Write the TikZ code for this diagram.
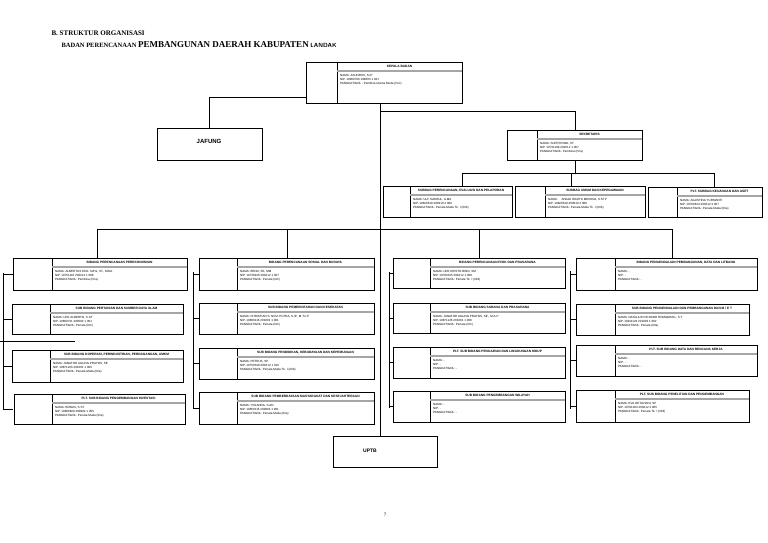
\documentclass[tikz,border=0pt]{standalone}
\usepackage{fontspec}
\setmainfont{Liberation Sans}
\newfontfamily\serifb{Liberation Serif}
\begin{document}
\begin{tikzpicture}[x=1pt,y=-1pt,
 box/.style={line width=0.9pt,fill=white},
 ttl/.style={font=\fontsize{3.2}{3.6}\selectfont\bfseries,inner sep=0pt},
 det/.style={font=\fontsize{3}{3.9}\selectfont,align=left,inner sep=0pt},
 conn/.style={line width=0.9pt}]
\useasboundingbox (0,0) rectangle (768,543);
\newcommand\card[8]{%
 \node[box,draw,anchor=north west,minimum width=#4pt-#2pt,minimum height=#5pt-#3pt,inner sep=0pt] (#1) at (#2,#3) {};
 \draw[line width=0.6pt] (#6,#3)--(#6,#5);
 \draw[line width=0.6pt] (#6,#3+8)--(#4,#3+8);
 \fill[gray!70] (#6,#3+8) rectangle (#4,#3+10);
 \node[ttl] (#1t) at ({(#6+#4)/2},#3+4.2) {#7};
 \node[det,anchor=north west] (#1d) at (#6+3,#3+12.5) {#8};}
\node[font=\serifb\bfseries\fontsize{7}{8}\selectfont,anchor=west] (h1) at (48,33) {B.\ STRUKTUR ORGANISASI};
\node[font=\serifb\bfseries\fontsize{6.5}{8}\selectfont,anchor=west] (h2) at (58,45) {BADAN PERENCANAAN {\fontsize{9}{9}\selectfont PEMBANGUNAN DAERAH KABUPATEN} {\sffamily\fontsize{6}{8}\selectfont LANDAK}};
% connectors
\draw[conn] (380,103)--(380,437);
\draw[conn] (209,128)--(209,97)--(380,97);
\draw[conn] (380,111)--(575,111)--(575,130);
\draw[conn] (575,160)--(575,173);
\draw[conn] (462,186)--(462,173)--(714,173)--(714,187);
\draw[conn] (571,173)--(571,186);
\draw[conn] (97,258)--(97,229)--(672,229)--(672,258);
\draw[conn] (287,229)--(287,258);
\draw[conn] (479,229)--(479,258);
\draw[conn] (3,273)--(3,410);
\draw[conn] (0,341)--(75,341);
\draw[conn] (193,272)--(193,408);
\draw[conn] (389,272)--(389,408);
\draw[conn] (570,271)--(570,409);
\foreach \y in {274,319,366,409} \draw[conn] (3,\y)--(13,\y);
\foreach \y in {274,318,363,408} \draw[conn] (193,\y)--(199,\y);
\foreach \y in {273,318,362,406} \draw[conn] (389,\y)--(393,\y);
\foreach \y in {274,319,360,406} \draw[conn] (570,\y)--(576,\y);
% cards
\card{kb}{306}{62}{462}{103}{337}{KEPALA BADAN}{NAMA: ASUNRUS, S.IP\\NIP. 19660706 198603 1 021\\PANGKAT/GOL : Pembina Utama Muda (IV/c)}
\node[box,draw,anchor=north west,minimum width=105pt,minimum height=32pt] (jf) at (157,128) {};
\node[font=\fontsize{6}{7}\selectfont\bfseries] (jft) at (209,141) {JAFUNG};
\card{sk}{507}{130}{642}{160}{537}{SEKRETARIS}{NAMA: SUPRIYONO, ST\\NIP. 19741109 200212 1 007\\PANGKAT/GOL: Pembina (IV/a)}
\card{sp}{383}{186}{512}{217}{410}{SUBBAG PERENCANAAN, EVALUASI DAN PELAPORAN}{NAMA: ULF SAMSUL, A.MA\\NIP. 19820518 200910 2 006\\PANGKAT/GOL: Penata Muda Tk. I (III/b)}
\card{su}{515}{186}{645}{217}{545}{SUBBAG UMUM DAN KEPEGAWAIAN}{NAMA: \quad ANGGI WAHYU MEIDINA, S.STP\\NIP. 19820518 200910 2 006\\PANGKAT/GOL: Penata Muda Tk. I (III/b)}
\card{sq}{648}{187}{762}{217}{677}{PLT. SUBBAG KEUANGAN DAN ASET}{NAMA: AGUSTINA YURMANTI\\NIP. 19760814 200212 2 007\\PANGKAT/GOL: Penata Muda (III/a)}
\card{b1}{13}{258}{187}{290}{52}{BIDANG PERENCANAAN PEREKONOMIAN}{NAMA: ALBERTUS EKO. SIPIL, ST., MSIA\\NIP. 19751116 200212 1 008\\PANGKAT/GOL: Pembina (IV/a)}
\card{b1a}{12}{304}{183}{334}{50}{SUB BIDANG PERTANIAN DAN SUMBER DAYA ALAM}{NAMA: LEO ALBERTO, S.ST\\NIP. 19800731 200502 1 001\\PANGKAT/GOL: Penata (III/c)}
\card{b1b}{12}{350}{183}{382}{50}{SUB BIDANG KOPERASI, PERINDUSTRIAN, PERDAGANGAN, UMKM}{NAMA: JANATOR AGUNG PRAYOS, SE\\NIP. 19871226 201001 1 006\\PANGKAT/GOL: Penata Muda (III/a)}
\card{b1c}{14}{394}{185}{424}{52}{PLT. SUB BIDANG PENGEMBANGAN INVESTASI}{NAMA: BONAS, S.ST\\NIP. 19860829 200902 1 005\\PANGKAT/GOL: Penata Muda (III/a)}
\card{b2}{199}{258}{374}{290}{237}{BIDANG PERENCANAAN SOSIAL DAN BUDAYA}{NAMA: BENO, SE, MM\\NIP. 19730916 200212 1 007\\PANGKAT/GOL: Penata (III/c)}
\card{b2a}{199}{303}{374}{334}{237}{SUB BIDANG PEMERINTAHAN DAN KESEHATAN}{NAMA: CHRISTIAN S. NOVI PUTRA, S.IP., M.Ti.I.P\\NIP. 19800116 201001 1 001\\PANGKAT/GOL: Penata (III/c)}
\card{b2b}{199}{348}{374}{379}{237}{SUB BIDANG PENDIDIKAN, KEBUDAYAAN DAN KEPEMUDAAN}{NAMA: PETRUS, SP\\NIP. 19750318 200212 1 016\\PANGKAT/GOL: Penata Muda Tk. I (III/b)}
\card{b2c}{199}{392}{374}{424}{237}{SUB BIDANG PEMBERDAYAAN MASYARAKAT DAN KESEJAHTERAAN}{NAMA: YOLANDA, S.AN\\NIP. 19850115 200904 1 001\\PANGKAT/GOL: Penata Muda (III/a)}
\card{b3}{393}{258}{565}{288}{430}{BIDANG PERENCANAAN FISIK DAN PRASARANA}{NAMA: LEO KRISTO BINO, SM\\NIP. 19700315 200212 1 008\\PANGKAT/GOL: Penata Tk. I (III/d)}
\card{b3a}{393}{303}{565}{333}{430}{SUB BIDANG SARANA DAN PRASARANA}{NAMA: JANATOR AGUNG PRAYOS, SE., M.A.P\\NIP. 19871126 201001 1 008\\PANGKAT/GOL: Penata (III/c)}
\card{b3b}{393}{347}{565}{378}{430}{PLT. SUB BIDANG PENGAIRAN DAN LINGKUNGAN HIDUP}{NAMA: -\\NIP: -\\PANGKAT/GOL: -}
\card{b3c}{393}{391}{565}{422}{430}{SUB BIDANG PENGEMBANGAN WILAYAH}{NAMA: -\\NIP: -\\PANGKAT/GOL: -}
\card{b4}{576}{258}{757}{290}{615}{BIDANG PENGENDALIAN PEMBANGUNAN, DATA DAN LITBANG}{NAMA: -\\NIP: -\\PANGKAT/GOL: -}
\card{b4a}{576}{304}{749}{335}{615}{SUB BIDANG PENGENDALIAN DAN PEMBANGUNAN DAN M / E T}{NAMA: NATALIUS RICHARD ROMAWASIL, S.T\\NIP. 19911123 201903 1 002\\PANGKAT/GOL: Penata (III/a)}
\card{b4b}{576}{345}{757}{376}{615}{PLT. SUB BIDANG DATA DAN RENCANA KERJA}{NAMA: -\\NIP: -\\PANGKAT/GOL: -}
\card{b4c}{576}{390}{749}{422}{615}{PLT. SUB BIDANG PENELITIAN DAN PENGEMBANGAN}{NAMA: EVA OKTAVIANI, SP\\NIP. 19791024 200212 2 005\\PANGKAT/GOL: Penata Tk. I (III/d)}
\node[box,draw,anchor=north west,minimum width=104pt,minimum height=31pt] (up) at (333,436) {};
\node[font=\fontsize{5}{6}\selectfont\bfseries] (upt) at (370,451) {UPTB};
\node[font=\serifb\fontsize{5}{6}\selectfont] (pg) at (385,515) {7};
\end{tikzpicture}
\end{document}
